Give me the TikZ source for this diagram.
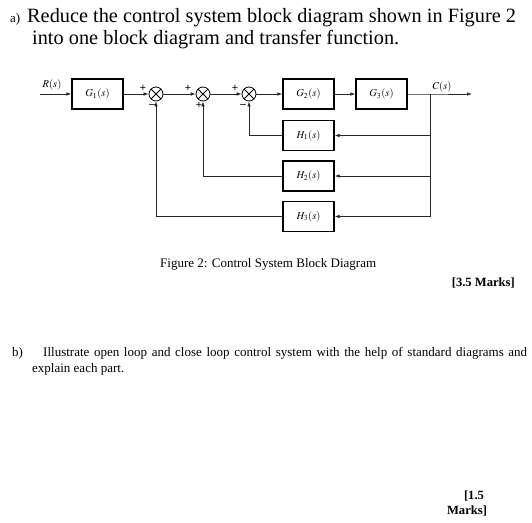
\documentclass[tikz,border=0pt]{standalone}
\usepackage{mathptmx}
\usepackage{fontspec}
\setmainfont{Liberation Serif}
\usetikzlibrary{arrows.meta}

\begin{document}
\begin{tikzpicture}[
    x=1pt, y=-1pt,
    bloque/.style={draw, line width=1.2pt, minimum width=51pt, minimum height=30pt, font=\fontsize{10.5}{11}\selectfont},
    sumador/.style={draw, circle, line width=0.8pt, minimum size=14pt, inner sep=0pt,
      path picture={\draw[line width=0.8pt] (path picture bounding box.north west) -- (path picture bounding box.south east)
        (path picture bounding box.north east) -- (path picture bounding box.south west);}},
    flecha/.style={-{Latex[length=5pt,width=3.5pt]}, line width=0.7pt, black!85},
    linea/.style={line width=0.7pt, black!85},
    signo/.style={font=\bfseries\fontsize{11}{11}\selectfont, inner sep=0pt},
    etiqueta/.style={font=\fontsize{10.5}{11}\selectfont, inner sep=0pt},
    texto/.style={anchor=base west, inner sep=0pt}
  ]
    \useasboundingbox (0,0) rectangle (532,522);

    % enunciado a)
    \node[texto, font=\fontsize{13}{15}\selectfont] (parteA) at (10,22) {a)};
    \node[texto, font=\fontsize{20.3}{24}\selectfont] (titulo1) at (27,22) {Reduce the control system block diagram shown in Figure 2};
    \node[texto, font=\fontsize{20.3}{24}\selectfont] (titulo2) at (32,44) {into one block diagram and transfer function.};

    % camino directo
    \coordinate (entrada) at (40,94);
    \node[bloque] (g1) at (97.5,94) {$G_1(s)$};
    \node[sumador] (s1) at (156,94) {};
    \node[sumador] (s2) at (203,94) {};
    \node[sumador] (s3) at (249,94) {};
    \node[bloque] (g2) at (308.5,94) {$G_2(s)$};
    \node[bloque] (g3) at (381.5,94) {$G_3(s)$};
    \coordinate (rama) at (430,94);
    \coordinate (salida) at (472,94);

    % realimentaciones
    \node[bloque] (h1) at (308.5,135.5) {$H_1(s)$};
    \node[bloque] (h2) at (308.5,176) {$H_2(s)$};
    \node[bloque] (h3) at (308.5,216.5) {$H_3(s)$};

    \node[etiqueta] (rs) at (52,85) {$R(s)$};
    \node[etiqueta] (cs) at (442,87) {$C(s)$};

    % signos
    \node[signo] at ([xshift=-13pt,yshift=6pt]s1) {+};
    \node[signo] at ([xshift=-4pt,yshift=-12pt]s1) {--};
    \node[signo] at ([xshift=-15pt,yshift=6pt]s2) {+};
    \node[signo] at ([xshift=-4pt,yshift=-11pt]s2) {+};
    \node[signo] at ([xshift=-14pt,yshift=6pt]s3) {+};
    \node[signo] at ([xshift=-6pt,yshift=-12pt]s3) {--};

    \draw[flecha] (entrada) -- (g1);
    \draw[flecha] (g1) -- (s1);
    \draw[flecha] (s1) -- (s2);
    \draw[flecha] (s2) -- (s3);
    \draw[flecha] (s3) -- (g2);
    \draw[flecha] (g2) -- (g3);
    \draw[flecha] (g3) -- (rama) -- (salida);
    \draw[linea] (rama) -- (rama |- h3);
    \draw[flecha] (rama |- h1) -- (h1);
    \draw[flecha] (rama |- h2) -- (h2);
    \draw[flecha] (rama |- h3) -- (h3);
    \draw[flecha] (h1) -| (s3);
    \draw[flecha] (h2) -| (s2);
    \draw[flecha] (h3) -| (s1);

    \node[texto, font=\fontsize{13}{15}\selectfont] (pie) at (160,267) {Figure 2: Control System Block Diagram};
    \node[anchor=base east, inner sep=0pt, font=\bfseries\fontsize{12.6}{15}\selectfont] (marcas1) at (515,286) {[3.5 Marks]};

    % enunciado b)
    \node[texto, font=\fontsize{13}{15}\selectfont] (parteB) at (12,356) {b)};
    \node[texto, font=\fontsize{13}{15}\selectfont] (enunciado1) at (43,356) {\makebox[484pt][s]{Illustrate open loop and close loop control system with the help of standard diagrams and}};
    \node[texto, font=\fontsize{13}{15}\selectfont] (enunciado2) at (32,372) {explain each part.};

    \node[anchor=base, inner sep=0pt, font=\bfseries\fontsize{12.6}{15}\selectfont] (marcas2) at (474,499) {[1.5};
    \node[anchor=base, inner sep=0pt, font=\bfseries\fontsize{12.6}{15}\selectfont] (marcas3) at (467,514) {Marks]};
  \end{tikzpicture}
\end{document}
